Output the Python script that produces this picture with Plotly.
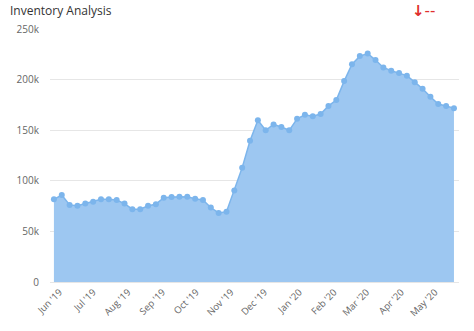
import plotly.graph_objects as go
import pandas as pd

start_date = "2019-05-27"
values = [81.7, 85.9, 76.2, 75.3, 77.5, 79.4, 81.7, 81.7, 81.0, 77.5,
          72.0, 72.0, 75.3, 76.9, 83.3, 84.0, 84.2, 84.2, 82.3, 81.0,
          73.6, 68.2, 69.5, 90.4, 113.0, 139.6, 159.9, 149.9, 155.7, 153.1,
          149.9, 161.2, 165.3, 163.8, 166.0, 174.0, 179.8, 198.5, 215.2, 223.2,
          225.8, 219.3, 212.0, 208.7, 206.5, 203.9, 197.5, 191.0, 183.0, 175.9,
          174.0, 171.8]
values = [v * 1000 for v in values]
dates = pd.date_range(start_date, periods=len(values), freq="7D")

tick_dates = pd.date_range("2019-06-01", "2020-05-01", freq="MS")
tick_text = [d.strftime("%b '%y") for d in tick_dates]
y_ticks = [0, 50000, 100000, 150000, 200000, 250000]
y_text = ["0", "50k", "100k", "150k", "200k", "250k"]

fig = go.Figure()
fig.add_trace(go.Scatter(
    x=dates, y=values, mode="lines+markers",
    fill="tozeroy", fillcolor="rgb(157,199,241)",
    line=dict(color="#7cb5ec", width=1.5),
    marker=dict(color="#7cb5ec", size=6),
    hoverinfo="skip", showlegend=False,
))

fig.update_layout(
    width=474, height=331,
    margin=dict(l=50, r=15, t=29, b=43),
    paper_bgcolor="white", plot_bgcolor="white",
    font=dict(family="Open Sans, sans-serif", color="#666666", size=10),
    xaxis=dict(
        tickmode="array", tickvals=tick_dates, ticktext=tick_text,
        tickangle=-45, showgrid=False, zeroline=False,
        showline=True, linecolor="#e6e6e6", linewidth=1,
        range=[dates[0] - pd.Timedelta(days=3.5), dates[-1] + pd.Timedelta(days=4.5)],
        tickfont=dict(size=9.5, color="#666666"), ticks="",
    ),
    yaxis=dict(
        tickmode="array", tickvals=y_ticks, ticktext=y_text,
        range=[0, 250000], showgrid=True, gridcolor="#e6e6e6", gridwidth=1,
        zeroline=False, showline=False, ticks="", ticklen=0,
        ticklabelstandoff=10,
        tickfont=dict(size=10, color="#666666"),
    ),
    annotations=[
        dict(text="Inventory Analysis", x=8, y=10, xref="paper", yref="paper",
             showarrow=False, xanchor="left", yanchor="middle",
             font=dict(size=12, color="#333333", family="Open Sans, sans-serif")),
        dict(text="<b>↓</b>--", x=410, y=10.5, showarrow=False, xanchor="left", yanchor="middle",
             font=dict(size=15, color="#e0302f", family="DejaVu Sans")),
    ],
)
# convert pixel positions for annotations to paper coords
W, H = 474, 331
l, r, t, b = 50, 15, 29, 43
pw, ph = W - l - r, H - t - b
for a in fig.layout.annotations:
    a.x = (a.x - l) / pw
    a.y = 1 - (a.y - t) / ph
    a.xref = "paper"
    a.yref = "paper"

fig.write_html("out.html")
